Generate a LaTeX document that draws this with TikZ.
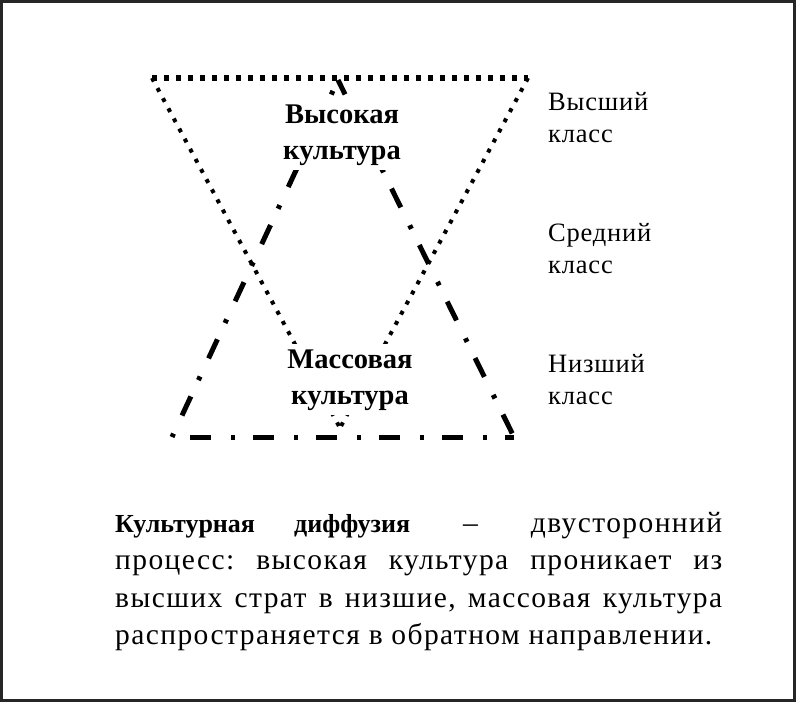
\documentclass[tikz,border=0pt]{standalone}
\usepackage{fontspec}
\setmainfont{Liberation Serif}
\newfontfamily\plainserif{Liberation Serif}
\frenchspacing
\begin{document}
\begin{tikzpicture}[x=1pt,y=-1pt,
  lbl/.style={font=\fontsize{26.5}{32}\selectfont\addfontfeatures{LetterSpace=3}, anchor=base west, align=left, inner sep=0pt},
  ttl/.style={font=\fontsize{28.5}{36}\selectfont\bfseries, anchor=base, align=center, fill=white, inner xsep=3pt, inner ysep=5pt},
  dotside/.style={line width=4pt, dash pattern=on 4pt off 7.5pt},
  dottop/.style={line width=5.5pt, dash pattern=on 5pt off 7pt},
  dashdotline/.style={line width=5pt, dash pattern=on 21pt off 20pt on 4pt off 18pt},
  frame/.style={line width=2.5pt, draw=black!85}
]
\useasboundingbox (0,0) rectangle (796,702);
\fill[white] (0,0) rectangle (796,702);
\draw[frame] (1.5,1.5) rectangle (794.5,700.5);

% inverted (dotted) triangle
\coordinate (tl) at (152,78);
\coordinate (tr) at (528,78);
\coordinate (iv) at (340,428);
\draw[dottop] (tl) -- (tr);
\draw[dotside] (tl) -- (iv);
\draw[dotside] (tr) -- (iv);

% upright (dash-dot) triangle
\coordinate (ap) at (338,80);
\coordinate (bl) at (172,437);
\coordinate (br) at (514,437);
\draw[dashdotline, dash phase=45pt] (bl) -- (br);
\draw[dashdotline, dash phase=29pt] (ap) -- (bl);
\draw[dashdotline, dash phase=5pt] (ap) -- (br);

% titles (base = last line), white backing hides the lines behind
\node[ttl] (high) at (342,159) {Высокая\\культура};
\node[ttl] (mass) at (350,404) {Массовая\\культура};

% class labels (base = last line)
\node[lbl] (upper) at (548,142) {Высший\\класс};
\node[lbl] (middle) at (548,273) {Средний\\класс};
\node[lbl] (lower) at (548,404) {Низший\\класс};

% paragraph
\node[inner sep=0pt, anchor=base west, text width=607pt, align=justify,
      font=\fontsize{29.5}{37.5}\selectfont\addfontfeatures{LetterSpace=4.8}] (para) at (115,532)
  {{\plainserif\bfseries\fontsize{26}{37.5}\selectfont Культурная диффузия} – двусторонний\linebreak
   процесс: высокая культура проникает из\linebreak
   высших страт в низшие, массовая культура\linebreak
   распространяется в обратном направлении.};
\end{tikzpicture}
\end{document}
